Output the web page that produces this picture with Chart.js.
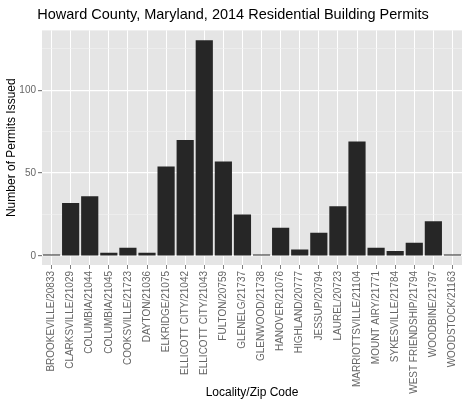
<!DOCTYPE html>
<html><head><script src="https://cdn.jsdelivr.net/npm/chart.js@4"></script>
<style>body{margin:0;background:#fff}#w{width:474px;height:406px}</style></head>
<body><div id="w"><canvas id="c"></canvas></div>
<script>
const categories=["BROOKEVILLE/20833","CLARKSVILLE/21029","COLUMBIA/21044","COLUMBIA/21045","COOKSVILLE/21723","DAYTON/21036","ELKRIDGE/21075","ELLICOTT CITY/21042","ELLICOTT CITY/21043","FULTON/20759","GLENELG/21737","GLENWOOD/21738","HANOVER/21076","HIGHLAND/20777","JESSUP/20794","LAUREL/20723","MARRIOTTSVILLE/21104","MOUNT AIRY/21771","SYKESVILLE/21784","WEST FRIENDSHIP/21794","WOODBINE/21797","WOODSTOCK/21163"];
const permits=[1,32,36,2,5,2,54,70,130,57,25,1,17,4,14,30,69,5,3,8,21,1];
const yTicks=[0,25,50,75,100,125];
const bg={id:'bg',beforeDraw(ch){const a=ch.chartArea,c=ch.ctx;c.save();c.fillStyle='#E5E5E5';c.fillRect(a.left,a.top,a.right-a.left,a.bottom-a.top);c.restore();}};
new Chart(document.getElementById('c'),{type:'bar',
data:{labels:categories,datasets:[{data:permits,backgroundColor:'#262626',borderColor:'#262626',borderWidth:0,categoryPercentage:0.9,barPercentage:1}]},
options:{responsive:true,maintainAspectRatio:false,animation:false,
layout:{padding:{top:4,right:12,left:4,bottom:6}},
plugins:{legend:{display:false},tooltip:{enabled:false},
title:{display:true,text:'Howard County, Maryland, 2014 Residential Building Permits',color:'#000',font:{family:'Liberation Sans',size:14.5,weight:'normal'},padding:{top:2,bottom:7}}},
scales:{
x:{offset:true,grid:{offset:false,color:'#fff',lineWidth:1,drawTicks:true,tickLength:4,tickColor:'#7f7f7f'},border:{display:false},
ticks:{color:'#666',font:{family:'Liberation Sans',size:10},maxRotation:90,minRotation:90,autoSkip:false,padding:2},
title:{display:true,text:'Locality/Zip Code',color:'#000',font:{family:'Liberation Sans',size:12},padding:{top:4,bottom:0}},
afterFit(s){s.height=135;}},
y:{min:-5.4,max:136,afterBuildTicks(s){s.ticks=yTicks.map(v=>({value:v}));},
grid:{color:c=>c.tick&&c.tick.value%50===0?'#fff':'#F2F2F2',lineWidth:c=>c.tick&&c.tick.value%50===0?1.2:0.6,tickLength:4,tickColor:c=>c.tick&&c.tick.value%50===0?'#7f7f7f':'rgba(0,0,0,0)'},border:{display:false},
ticks:{color:'#666',font:{family:'Liberation Sans',size:10},padding:2,callback:v=>v%50===0?v:''},
title:{display:true,text:'Number of Permits Issued',color:'#000',font:{family:'Liberation Sans',size:12},padding:{top:0,bottom:3}},
afterFit(s){s.width=38;}}}},
plugins:[bg]});
</script></body></html>
